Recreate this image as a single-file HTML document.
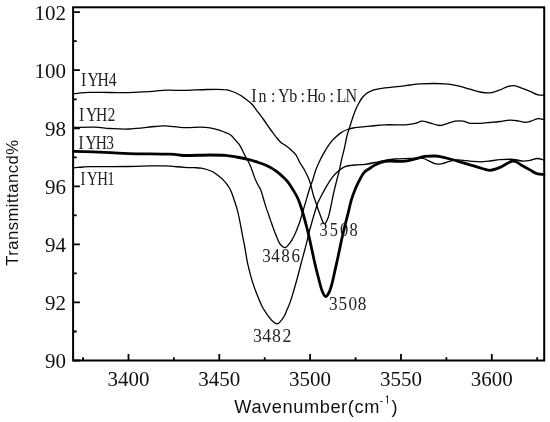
<!DOCTYPE html>
<html><head><meta charset="utf-8"><title>IR transmittance spectra</title>
<style>html,body{margin:0;padding:0;background:#fff;}svg{display:block;}</style>
</head><body>
<svg width="550" height="422" viewBox="0 0 550 422">
<rect width="550" height="422" fill="#fff"/>
<rect x="73.1" y="7.3" width="471.1" height="353.2" fill="none" stroke="#000" stroke-width="2"/>
<path d="M73.1,360.5H79.9 M73.1,331.5H76.7 M73.1,302.4H79.9 M73.1,273.4H76.7 M73.1,244.4H79.9 M73.1,215.4H76.7 M73.1,186.4H79.9 M73.1,157.3H76.7 M73.1,128.3H79.9 M73.1,99.3H76.7 M73.1,70.2H79.9 M73.1,41.2H76.7 M73.1,12.2H79.9 M83.1,360.5V357.2 M128.5,360.5V354.0 M173.9,360.5V357.2 M219.3,360.5V354.0 M264.7,360.5V357.2 M310.1,360.5V354.0 M355.6,360.5V357.2 M401.0,360.5V354.0 M446.4,360.5V357.2 M491.8,360.5V354.0 M537.2,360.5V357.2" stroke="#000" stroke-width="1.8" fill="none"/>
<path d="M74.0,93.6 C76.7,93.4 84.0,92.6 90.0,92.4 C96.0,92.2 103.5,92.5 110.0,92.5 C116.5,92.5 122.5,92.8 129.0,92.6 C135.5,92.4 142.7,92.0 149.0,91.6 C155.3,91.2 161.2,90.4 167.0,90.2 C172.8,90.0 177.3,90.5 184.0,90.4 C190.7,90.3 200.3,89.6 207.0,89.5 C213.7,89.4 220.0,89.3 224.0,89.6 C228.0,89.8 228.5,90.2 231.0,91.0 C233.5,91.8 236.7,93.2 239.0,94.5 C241.3,95.8 242.8,96.9 245.0,98.5 C247.2,100.1 249.8,102.0 252.0,104.3 C254.2,106.6 256.0,109.6 258.0,112.2 C260.0,114.8 261.8,117.1 263.9,120.0 C266.0,122.9 268.4,126.7 270.5,129.5 C272.6,132.3 274.5,134.9 276.2,137.1 C277.9,139.2 279.3,141.0 280.9,142.4 C282.5,143.8 283.9,144.3 285.7,145.6 C287.4,146.9 289.7,148.7 291.4,150.3 C293.1,151.9 294.7,153.0 296.1,155.1 C297.5,157.2 298.5,160.2 299.9,162.7 C301.3,165.2 303.2,167.7 304.6,170.2 C306.0,172.7 307.2,175.2 308.3,177.8 C309.4,180.4 310.1,182.6 310.9,185.5 C311.7,188.4 312.5,192.3 313.3,195.0 C314.1,197.7 314.8,199.4 315.5,201.5 C316.2,203.6 316.8,205.3 317.5,207.5 C318.2,209.7 319.2,212.4 320.0,214.5 C320.8,216.6 321.4,218.5 322.0,220.0 C322.6,221.5 323.0,222.8 323.6,223.3 C324.2,223.9 324.8,223.9 325.4,223.3 C326.0,222.7 326.7,221.2 327.3,219.8 C327.9,218.4 328.4,217.4 329.0,214.9 C329.6,212.4 330.5,208.3 331.2,205.0 C331.9,201.7 332.5,198.1 333.2,195.0 C333.9,191.9 334.5,189.2 335.2,186.5 C335.9,183.8 336.5,181.2 337.2,178.5 C337.9,175.8 338.7,173.2 339.4,170.1 C340.1,167.0 340.8,163.0 341.5,160.0 C342.2,157.0 342.8,154.8 343.5,152.0 C344.2,149.2 344.9,145.8 345.5,143.0 C346.1,140.2 346.5,137.6 347.2,135.0 C347.9,132.4 348.6,130.5 349.5,127.7 C350.4,124.9 351.5,121.2 352.5,118.2 C353.5,115.2 354.5,112.3 355.5,109.9 C356.5,107.5 357.3,106.0 358.4,104.0 C359.5,102.0 360.6,99.8 362.0,98.0 C363.4,96.2 365.4,94.4 366.7,93.3 C368.0,92.2 368.6,92.1 370.0,91.5 C371.4,90.9 372.5,90.2 375.0,89.6 C377.5,89.0 380.8,88.3 385.0,87.8 C389.2,87.3 395.8,86.9 400.0,86.4 C404.2,85.9 406.7,85.4 410.0,85.0 C413.3,84.6 414.2,84.0 420.0,83.8 C425.8,83.6 438.7,83.4 445.0,83.8 C451.3,84.2 453.8,85.0 458.0,85.9 C462.2,86.8 466.3,88.2 470.0,89.2 C473.7,90.2 476.7,91.4 480.0,92.0 C483.3,92.6 486.7,93.1 490.0,92.8 C493.3,92.5 497.2,90.9 500.0,89.9 C502.8,88.9 504.7,87.5 507.0,86.8 C509.3,86.1 511.7,85.4 514.0,85.6 C516.3,85.8 518.3,86.8 521.0,87.8 C523.7,88.8 527.2,90.1 530.0,91.3 C532.8,92.5 535.7,94.3 538.0,94.9 C540.3,95.5 543.0,95.0 544.0,95.0" stroke="#000" stroke-width="1.3" fill="none" stroke-linejoin="round" stroke-linecap="round"/>
<path d="M74.0,127.5 C77.5,127.5 89.0,127.0 95.0,127.2 C101.0,127.4 104.3,128.2 110.0,128.5 C115.7,128.8 121.5,129.3 129.0,129.0 C136.5,128.7 149.0,127.0 155.0,126.5 C161.0,126.0 160.2,125.7 165.0,125.9 C169.8,126.1 178.2,127.4 184.0,127.6 C189.8,127.8 195.7,127.2 200.0,127.2 C204.3,127.2 206.7,127.3 210.0,127.8 C213.3,128.3 216.7,129.3 220.0,130.4 C223.3,131.5 227.3,132.8 230.0,134.5 C232.7,136.2 234.3,139.0 236.0,140.9 C237.7,142.8 238.5,143.2 240.0,145.7 C241.5,148.1 243.3,152.4 245.0,155.6 C246.7,158.8 248.6,161.8 250.0,164.9 C251.4,168.1 252.6,172.0 253.5,174.5 C254.4,177.0 254.8,178.2 255.6,180.0 C256.4,181.8 257.4,183.8 258.3,185.5 C259.2,187.2 260.0,187.9 260.8,190.0 C261.6,192.1 262.5,195.5 263.3,198.3 C264.1,201.1 264.9,203.7 265.8,206.6 C266.7,209.5 268.0,212.8 268.9,215.5 C269.8,218.2 270.5,220.2 271.3,222.5 C272.1,224.8 272.8,226.8 273.6,229.1 C274.5,231.4 275.5,233.9 276.4,236.2 C277.3,238.4 278.2,240.9 279.2,242.6 C280.1,244.3 281.1,245.3 282.1,246.2 C283.1,247.0 284.2,247.9 285.3,247.7 C286.4,247.4 287.4,246.0 288.5,244.7 C289.6,243.4 290.8,241.8 292.0,239.8 C293.2,237.8 294.5,235.1 295.6,232.7 C296.7,230.3 297.6,227.6 298.4,225.6 C299.2,223.6 299.1,223.9 300.2,220.5 C301.3,217.1 303.2,210.3 304.8,204.9 C306.4,199.5 308.4,192.5 309.7,188.3 C311.0,184.2 311.7,183.0 312.7,180.0 C313.7,177.0 314.6,173.3 315.7,170.3 C316.8,167.3 318.0,164.6 319.2,162.0 C320.4,159.4 321.5,157.3 322.8,154.9 C324.1,152.5 325.5,150.0 326.9,147.8 C328.3,145.6 329.8,143.5 331.1,141.8 C332.5,140.1 333.3,139.3 335.0,137.7 C336.7,136.1 339.4,133.8 341.5,132.4 C343.6,131.0 345.5,130.2 347.4,129.5 C349.3,128.8 351.0,128.4 353.1,128.0 C355.2,127.6 357.2,127.5 360.0,127.2 C362.8,126.9 365.8,126.6 370.0,126.2 C374.2,125.8 379.2,125.0 385.0,124.8 C390.8,124.6 400.0,125.0 405.0,124.8 C410.0,124.6 412.2,124.0 415.0,123.4 C417.8,122.8 419.5,121.3 422.0,121.2 C424.5,121.1 427.0,122.3 430.0,123.0 C433.0,123.7 437.0,125.5 440.0,125.5 C443.0,125.5 445.5,124.0 448.0,123.3 C450.5,122.6 452.5,121.5 455.0,121.2 C457.5,120.9 460.5,120.9 463.0,121.2 C465.5,121.5 467.2,123.0 470.0,123.3 C472.8,123.6 476.7,123.4 480.0,123.3 C483.3,123.2 486.7,122.8 490.0,122.5 C493.3,122.2 496.7,121.9 500.0,121.5 C503.3,121.1 507.0,120.2 510.0,120.1 C513.0,120.0 515.5,120.5 518.0,120.9 C520.5,121.3 523.0,122.2 525.0,122.3 C527.0,122.4 527.8,122.1 530.0,121.5 C532.2,120.9 535.7,118.9 538.0,118.6 C540.3,118.3 543.0,119.6 544.0,119.8" stroke="#000" stroke-width="1.3" fill="none" stroke-linejoin="round" stroke-linecap="round"/>
<path d="M74.0,167.8 C75.5,167.7 80.3,167.2 83.0,167.0 C85.7,166.8 82.3,166.8 90.0,166.7 C97.7,166.6 119.0,166.6 129.0,166.5 C139.0,166.4 144.0,166.0 150.0,165.9 C156.0,165.8 159.3,165.7 165.0,165.9 C170.7,166.1 179.0,167.0 184.0,167.3 C189.0,167.6 192.2,167.6 195.0,167.7 C197.8,167.8 198.9,167.8 200.9,168.1 C202.9,168.4 204.8,168.9 206.8,169.5 C208.8,170.1 210.8,170.7 212.8,171.8 C214.8,172.9 216.9,174.6 218.7,176.0 C220.5,177.4 222.0,178.7 223.4,180.1 C224.8,181.5 225.9,182.8 227.0,184.3 C228.1,185.8 229.1,187.3 230.0,189.0 C230.9,190.7 231.5,192.3 232.3,194.4 C233.1,196.5 233.9,199.0 234.7,201.5 C235.5,204.0 236.3,206.2 237.1,209.2 C237.9,212.1 238.5,214.8 239.4,219.2 C240.3,223.6 241.6,230.7 242.5,235.5 C243.4,240.3 244.1,243.4 245.0,248.3 C245.9,253.2 246.8,259.9 248.0,265.2 C249.2,270.5 250.5,275.5 252.0,280.4 C253.5,285.3 255.3,290.3 257.0,294.6 C258.7,298.9 260.6,303.5 262.0,306.3 C263.4,309.1 264.1,309.8 265.1,311.4 C266.2,313.0 267.2,314.7 268.3,316.1 C269.4,317.5 270.4,318.9 271.4,320.0 C272.4,321.1 273.6,322.1 274.5,322.7 C275.4,323.3 275.8,323.8 276.6,323.8 C277.4,323.8 278.2,323.5 279.2,322.7 C280.1,321.9 281.4,320.4 282.3,319.2 C283.2,318.0 283.9,316.9 284.7,315.3 C285.5,313.7 286.2,311.6 287.0,309.8 C287.8,308.0 288.6,306.3 289.3,304.4 C290.1,302.4 290.9,300.1 291.5,298.1 C292.1,296.1 292.5,294.8 293.2,292.5 C293.9,290.2 294.6,287.7 295.5,284.5 C296.4,281.3 297.5,277.3 298.5,273.5 C299.5,269.7 300.6,265.3 301.6,261.5 C302.6,257.7 303.7,254.1 304.6,250.5 C305.6,246.9 306.5,243.2 307.3,240.0 C308.1,236.8 307.9,236.4 309.4,231.0 C310.9,225.6 314.7,212.5 316.3,207.3 C317.9,202.1 317.5,203.4 319.2,200.0 C320.9,196.6 324.1,190.5 326.3,186.7 C328.5,182.9 330.3,179.9 332.3,177.3 C334.3,174.7 336.1,173.1 338.2,171.3 C340.3,169.5 342.1,167.7 345.0,166.6 C347.9,165.5 352.2,165.4 355.5,165.0 C358.8,164.6 361.8,164.7 365.0,164.3 C368.2,163.9 371.7,163.2 375.0,162.5 C378.3,161.8 381.7,161.0 385.0,160.4 C388.3,159.8 390.8,159.3 395.0,159.0 C399.2,158.7 405.8,158.6 410.0,158.4 C414.2,158.2 417.5,157.7 420.0,157.8 C422.5,157.9 422.5,158.0 425.0,159.0 C427.5,160.0 432.2,162.9 435.0,163.7 C437.8,164.5 439.5,164.1 442.0,163.7 C444.5,163.3 447.3,161.7 450.0,161.1 C452.7,160.5 454.7,159.9 458.0,159.9 C461.3,159.9 466.3,160.8 470.0,161.1 C473.7,161.4 476.7,161.9 480.0,161.9 C483.3,161.9 486.7,161.4 490.0,161.0 C493.3,160.6 496.2,160.0 500.0,159.7 C503.8,159.4 509.3,159.1 513.0,159.3 C516.7,159.5 519.2,160.8 522.0,161.0 C524.8,161.2 527.5,160.8 530.0,160.4 C532.5,160.0 534.7,158.6 537.0,158.5 C539.3,158.4 542.8,159.8 544.0,160.1" stroke="#000" stroke-width="1.3" fill="none" stroke-linejoin="round" stroke-linecap="round"/>
<path d="M74.0,151.3 C80.0,151.5 100.8,152.2 110.0,152.6 C119.2,153.0 119.0,153.3 129.0,153.6 C139.0,153.9 160.8,153.9 170.0,154.2 C179.2,154.5 177.3,155.4 184.0,155.5 C190.7,155.6 203.2,155.0 210.0,155.0 C216.8,155.0 220.6,155.0 225.0,155.3 C229.4,155.6 232.6,156.3 236.4,157.0 C240.2,157.7 243.9,158.5 247.7,159.4 C251.5,160.3 255.6,161.5 259.1,162.7 C262.6,163.9 265.8,165.0 268.6,166.4 C271.5,167.8 274.0,169.6 276.2,171.2 C278.4,172.8 280.0,174.2 281.9,175.9 C283.8,177.6 285.7,179.2 287.6,181.6 C289.5,184.0 291.5,187.2 293.2,190.1 C294.9,192.9 296.6,195.5 298.0,198.7 C299.4,201.8 300.2,204.2 301.7,209.0 C303.2,213.8 305.4,222.1 306.8,227.4 C308.2,232.7 309.0,236.4 310.0,241.0 C311.0,245.6 312.0,250.4 313.0,255.0 C314.0,259.6 315.0,264.1 316.0,268.3 C317.0,272.5 318.0,276.3 319.0,280.0 C320.0,283.7 320.9,287.8 322.0,290.5 C323.1,293.2 324.3,296.2 325.5,296.5 C326.7,296.8 327.9,294.6 329.0,292.5 C330.1,290.4 331.0,287.3 332.0,283.6 C333.0,279.9 334.0,274.8 335.0,270.4 C336.0,266.0 337.0,261.6 338.0,257.0 C339.0,252.3 340.0,247.2 341.0,242.5 C342.0,237.8 343.1,233.3 344.2,228.6 C345.3,223.9 346.6,219.1 347.8,214.4 C349.0,209.7 350.0,204.6 351.3,200.2 C352.6,195.8 354.2,191.7 355.8,187.8 C357.4,184.0 359.6,179.8 361.1,177.1 C362.6,174.4 363.5,173.0 365.0,171.5 C366.5,170.0 368.3,169.3 370.0,168.2 C371.7,167.1 372.5,166.1 375.0,164.9 C377.5,163.8 381.7,161.9 385.0,161.3 C388.3,160.7 391.7,161.3 395.0,161.3 C398.3,161.3 401.7,161.5 405.0,161.1 C408.3,160.7 411.7,159.8 415.0,159.0 C418.3,158.2 421.7,156.9 425.0,156.4 C428.3,155.9 432.5,156.0 435.0,156.0 C437.5,156.0 437.5,156.1 440.0,156.6 C442.5,157.1 446.7,158.1 450.0,159.0 C453.3,159.9 456.7,160.9 460.0,161.9 C463.3,162.9 466.7,163.9 470.0,164.9 C473.3,165.9 476.7,166.9 480.0,167.8 C483.3,168.7 486.7,170.4 490.0,170.3 C493.3,170.2 496.2,169.0 500.0,167.4 C503.8,165.8 509.3,161.3 513.0,161.0 C516.7,160.7 519.2,164.0 522.0,165.5 C524.8,167.0 527.5,168.5 530.0,169.9 C532.5,171.3 534.7,172.9 537.0,173.7 C539.3,174.4 542.8,174.3 544.0,174.4" stroke="#000" stroke-width="2.8" fill="none" stroke-linejoin="round" stroke-linecap="round"/>

<g font-family="Liberation Serif, serif" font-size="21" fill="#111"><text x="66" y="368.3" text-anchor="end">90</text><text x="66" y="310.2" text-anchor="end">92</text><text x="66" y="252.2" text-anchor="end">94</text><text x="66" y="194.2" text-anchor="end">96</text><text x="66" y="136.1" text-anchor="end">98</text><text x="66" y="78.0" text-anchor="end">100</text><text x="66" y="20.0" text-anchor="end">102</text><text x="128.5" y="385.6" text-anchor="middle">3400</text><text x="219.3" y="385.6" text-anchor="middle">3450</text><text x="310.1" y="385.6" text-anchor="middle">3500</text><text x="401.0" y="385.6" text-anchor="middle">3550</text><text x="491.8" y="385.6" text-anchor="middle">3600</text></g>
<g font-family="Liberation Serif, serif" font-size="19.5" fill="#222"><text transform="translate(0,86.4) scale(0.807,1)" x="100.22 108.35 120.86 134.63" y="0">IYH4</text><text transform="translate(0,121.4) scale(0.803,1)" x="98.29 106.97 119.55 133.78" y="0">IYH2</text><text transform="translate(0,149.4) scale(0.792,1)" x="99.20 107.81 120.82 134.01" y="0">IYH3</text><text transform="translate(0,184.6) scale(0.758,1)" x="106.31 114.67 128.25 141.61" y="0">IYH1</text><text transform="translate(0,101.7) scale(0.824,1)" x="304.86 313.60 328.85 337.26 351.18 364.65 372.19 385.64 399.96 408.41 419.34" y="0">In:Yb:Ho:LN</text><text transform="translate(0,261.8) scale(0.876,1)" x="299.43 309.52 320.97 332.82" y="0">3486</text><text transform="translate(0,235.8) scale(0.845,1)" x="378.17 390.38 402.41 413.66" y="0">3508</text><text transform="translate(0,309.8) scale(0.884,1)" x="372.23 382.99 394.26 404.77" y="0">3508</text><text transform="translate(0,341.6) scale(0.916,1)" x="276.24 286.33 297.06 308.53" y="0">3482</text></g>
<text x="234.3" y="412.6" font-family="Liberation Sans, Arial, sans-serif" font-size="18.2" letter-spacing="0.6" fill="#111">Wavenumber(cm<tspan x="379.6" y="403.5" font-size="11.2" letter-spacing="0">-</tspan><tspan x="384.6" y="403.5" font-size="11.2" letter-spacing="0" font-family="IPAGothic, Liberation Sans, sans-serif">1</tspan><tspan x="391.4" y="412.6" letter-spacing="0">)</tspan></text>
<text transform="translate(18.4,265.8) rotate(-90)" font-family="Liberation Sans, Arial, sans-serif" font-size="16.6" letter-spacing="0.5" fill="#111">Transmittancd%</text>
</svg>
</body></html>
